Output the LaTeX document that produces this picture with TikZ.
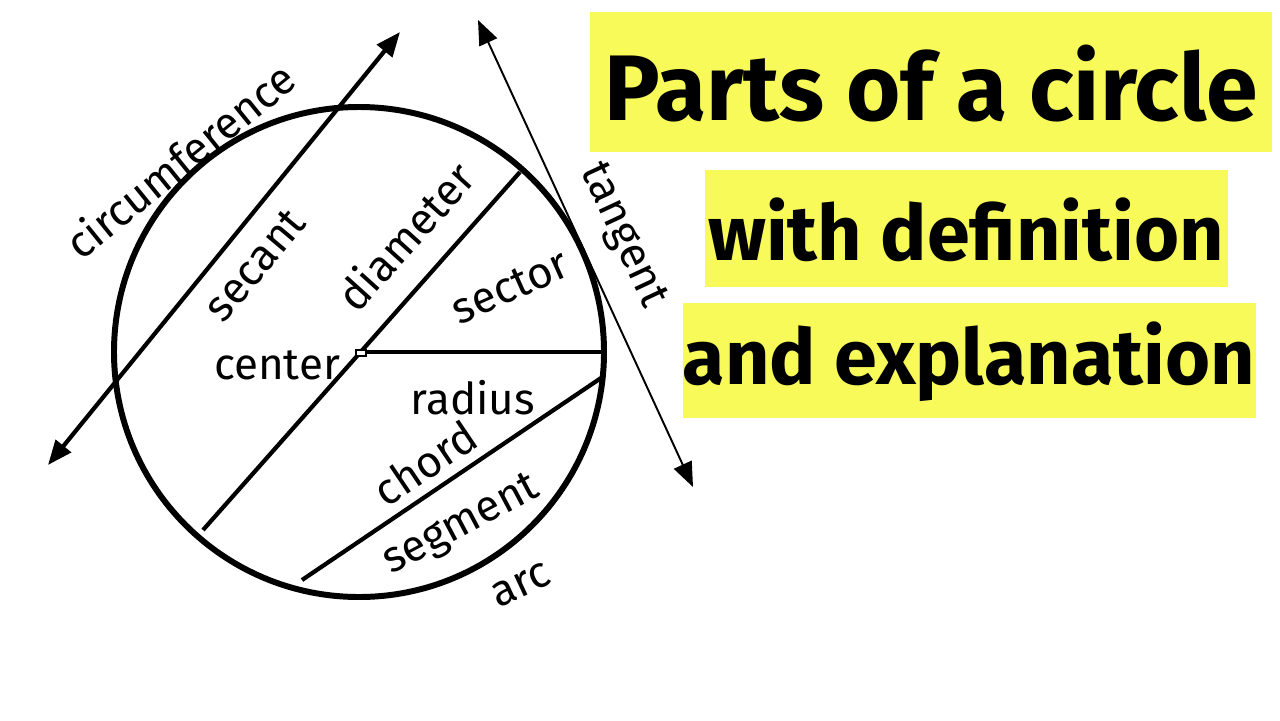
\documentclass[tikz,border=0pt]{standalone}
\usepackage{fontspec}
\setmainfont{Fira Sans}
\usetikzlibrary{arrows.meta}
\tikzset{
  thickline/.style={line width=2.4pt},
  lbl/.style={font=\fontsize{25}{25}\selectfont, inner sep=0pt},
  title/.style={fill={rgb,255:red,248;green,250;blue,90}, font=\fontsize{44}{44}\selectfont\bfseries, inner sep=0pt}
}
\begin{document}
\begin{tikzpicture}[x=0.02cm, y=-0.02cm]
	\useasboundingbox (0,0) rectangle (1280,720);
	% circle and its lines
	\coordinate (c) at (359,352);
	\draw[line width=3.4pt] (c) circle (245);
	\coordinate (sa) at (48,465);
	\coordinate (sb) at (400,32);
	\draw[thickline, {Triangle[length=14pt,width=11pt]}-{Triangle[length=14pt,width=11pt]}] (sa) -- (sb);
	\coordinate (da) at (203,530);
	\coordinate (db) at (520,172);
	\draw[thickline] (da) -- (db);
	\coordinate (r) at (602,352);
	\draw[thickline] (c) -- (r);
	\coordinate (ca) at (302,580);
	\coordinate (cb) at (601,378);
	\draw[thickline] (ca) -- (cb);
	\coordinate (ta) at (478,20);
	\coordinate (tb) at (693,487);
	\draw[line width=1.1pt, {Triangle[length=14pt,width=11pt]}-{Triangle[length=14pt,width=11pt]}] (ta) -- (tb);
	\draw[line width=1pt, fill=white] (356,350) rectangle (366,356);
	% labels
	\node[lbl, rotate=39] (circ) at (180,160) {circumference};
	\node[lbl, rotate=50] (sec) at (255,265) {secant};
	\node[lbl, rotate=48] (dia) at (405,236) {diameter};
	\node[lbl, rotate=24] (sct) at (510,287) {sector};
	\node[lbl] (cen) at (277,365) {center};
	\node[lbl] (rad) at (473,398) {radius};
	\node[lbl, rotate=34] (chd) at (425,463) {chord};
	\node[lbl, rotate=28] (seg) at (462,526) {segment};
	\node[lbl, rotate=25] (arc) at (521,585) {arc};
	\node[lbl, rotate=-65] (tan) at (622,236) {tangent};
	% title
	\fill[title] (590,12) rectangle (1272,152);
	\node[title, font=\fontsize{53}{53}\selectfont\bfseries] (t1) at (931,84) {Parts of a circle};
	\fill[title] (705,170) rectangle (1228,287);
	\node[title] (t2) at (966,230) {with definition};
	\fill[title] (683,303) rectangle (1256,418);
	\node[title] (t3) at (969,362) {and explanation};
\end{tikzpicture}
\end{document}
